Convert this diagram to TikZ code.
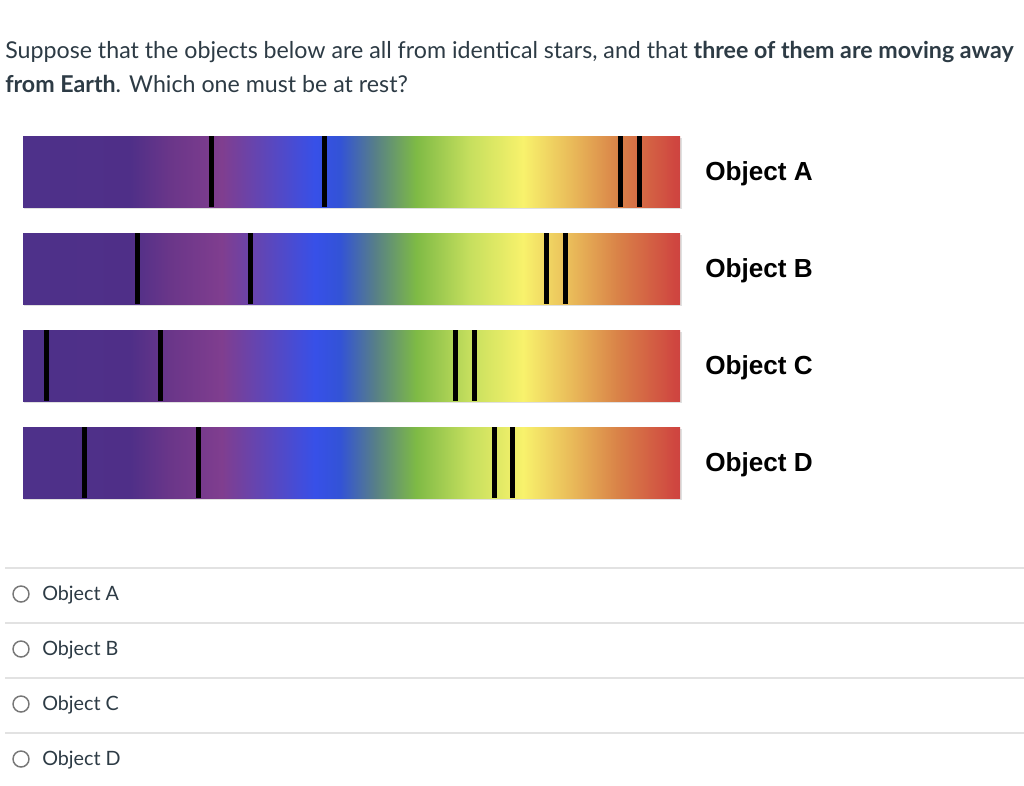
\documentclass[tikz,border=0pt]{standalone}
\usepackage{fontspec}
\setmainfont{Lato}
\newfontfamily\helv{Liberation Sans}
\definecolor{txt}{HTML}{2D3B45}
\definecolor{sepc}{HTML}{E2E2E2}
\definecolor{radc}{HTML}{777777}
\definecolor{spa}{HTML}{4E318A}
\definecolor{spb}{HTML}{4F2F88}
\definecolor{spc}{HTML}{6A3689}
\definecolor{spd}{HTML}{803E8F}
\definecolor{spe}{HTML}{3750E8}
\definecolor{spf}{HTML}{3353D6}
\definecolor{spg}{HTML}{577F88}
\definecolor{sph}{HTML}{7EBA45}
\definecolor{spi}{HTML}{C6DF5E}
\definecolor{spj}{HTML}{F8F26C}
\definecolor{spk}{HTML}{E8B658}
\definecolor{spl}{HTML}{D98348}
\definecolor{spm}{HTML}{CF4640}
\definecolor{spn}{HTML}{CE4440}
\pgfdeclarehorizontalshading{spectrum}{100bp}{color(0bp)=(spa); color(25bp)=(spa); color(33.14bp)=(spb); color(36.19bp)=(spc); color(40.14bp)=(spd); color(47.22bp)=(spe); color(49.13bp)=(spf); color(51.79bp)=(spg); color(54.91bp)=(sph); color(59.02bp)=(spi); color(63.05bp)=(spj); color(67.01bp)=(spk); color(70.21bp)=(spl); color(74.62bp)=(spm); color(75bp)=(spn); color(100bp)=(spn)}
\begin{document}
\begin{tikzpicture}[x=0.75pt,y=-0.75pt,
  title/.style={anchor=base west,inner sep=0pt,font=\fontsize{17.4pt}{21pt}\selectfont,text=txt},
  objlabel/.style={anchor=west,inner sep=0pt,font=\helv\bfseries\fontsize{19.6pt}{23pt}\selectfont,text=black},
  opt/.style={anchor=base west,inner sep=0pt,font=\fontsize{14.8pt}{18pt}\selectfont,text=txt},
  radio/.style={circle,draw=radc,line width=1.1pt,minimum size=12pt,inner sep=0pt},
  sep/.style={draw=sepc,line width=0.9pt},
  absline/.style={fill=black}]
\useasboundingbox (0,0) rectangle (1024,785);
\fill[white] (0,0) rectangle (1024,785);
\node[title] (t1) at (5,58) {Suppose that the objects below are all from identical stars, and that \textbf{three of them are moving away}};
\node[title] (t2) at (5,92) {\textbf{from Earth}. Which one must be at rest?};
\foreach \nm/\y/\a/\b/\c/\d in {A/136/211/324/620/639, B/233/137/250/546/565, C/330/46/160/455/474, D/427/84/198/494/512}{
  \fill[black!12] (24,\y+1.5) rectangle (681.5,\y+73);
  \fill[shading=spectrum] (23,\y) rectangle (680,\y+71);
  \foreach \l in {\a,\b,\c,\d}{
    \fill[absline] (\l-2.5,\y) rectangle (\l+2.5,\y+71);
  }
  \node[objlabel] (lbl\nm) at (705,\y+37.5) {Object \nm};
}
\foreach \yy in {568,623,678,733}{
  \draw[sep] (5,\yy) -- (1024,\yy);
}
\foreach \nm/\y in {A/594,B/649,C/704,D/759}{
  \node[radio] (r\nm) at (21,\y) {};
  \node[opt] (o\nm) at (42,\y+6.5) {Object \nm};
}
\end{tikzpicture}
\end{document}
